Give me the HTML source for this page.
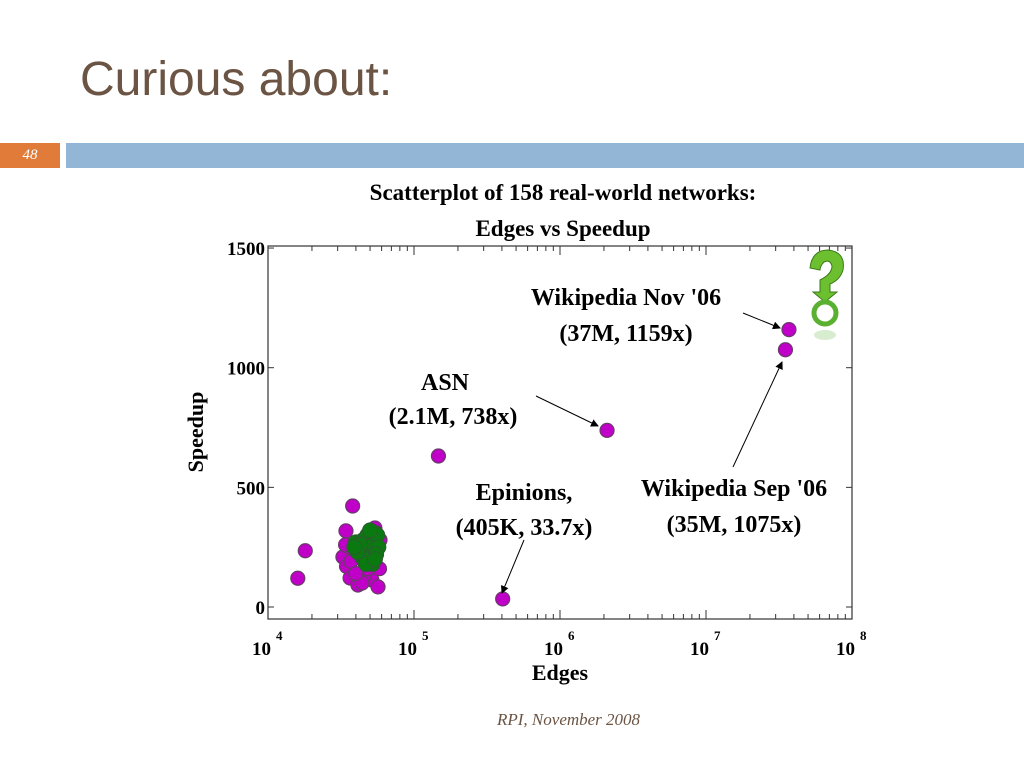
<!DOCTYPE html>
<html><head><meta charset="utf-8"><style>
body{margin:0;width:1024px;height:768px;background:#fff;overflow:hidden;position:relative;font-family:"Liberation Serif",serif}
.title{position:absolute;left:80px;top:52px;font-family:"Liberation Sans",sans-serif;font-size:48px;color:#6b5443}
.ob{position:absolute;left:0;top:143px;width:60px;height:25px;background:#e07b39;color:#fff;font-style:italic;font-size:15px;text-align:center;line-height:25px}
.bb{position:absolute;left:66px;top:143px;width:958px;height:25px;background:#93b6d6}
.foot{position:absolute;left:497px;top:710px;font-style:italic;font-size:17px;color:#6b5443}
</style></head><body>
<div class="title">Curious about:</div>
<div class="ob">48</div>
<div class="bb"></div>
<div class="foot">RPI, November 2008</div>
<svg id="chart" width="1024" height="768" style="position:absolute;left:0;top:0" font-family="Liberation Serif, serif" font-weight="bold"></svg>
<script>
const magX=[16000,18000,147000,38000,2100000,405000,37000000,35000000,34200,32600,34500,36500,41300,51500,56700,45500,54000,58500,54000,42700,39400,48400,36000,44000,34000,37000,40000,58000];
const magY=[120,235,631,422,738,33.7,1159,1075,318,209,170,121,92,113,84,130,196,280,330,259,220,160,250,100,260,190,140,160];
const grnX=[40000,42000,45000,48000,51000,54000,47000,44000,50000,53000,46000,49000,52000,43000,56000,57000,55000,41000,39000,50000,47000,54000];
const grnY=[270,240,280,300,290,310,250,210,230,260,190,200,180,260,300,250,220,230,250,320,180,200];
const yTicks=[0,500,1000,1500];
const xExp=[4,5,6,7,8];
const NS='http://www.w3.org/2000/svg';
const svg=document.getElementById('chart');
const L=268,R=852,T=246,B=619,DEC=146;
const sx=v=>L+(Math.log10(v)-4)*DEC;
const sy=v=>607-v*0.2393;
function mk(t,a,p){const e=document.createElementNS(NS,t);for(const k in a)e.setAttribute(k,a[k]);(p||svg).appendChild(e);return e;}
const frame=mk('rect',{x:L,y:T,width:R-L,height:B-T,fill:'none',stroke:'#333','stroke-width':1.2});


yTicks.forEach(v=>{
 const tx=mk('text',{x:L-3,y:sy(v)+7,'text-anchor':'end','font-size':19});tx.textContent=v;
 
 
 mk('line',{x1:L,x2:L+6,y1:sy(v),y2:sy(v),stroke:'#333'});
 mk('line',{x1:R-6,x2:R,y1:sy(v),y2:sy(v),stroke:'#333'});
});
xExp.forEach(e=>{
 const x=L+(e-4)*DEC;
 const tx=mk('text',{x:x-16,y:655,'font-size':19});tx.textContent='10';
 
 
 const sp=mk('text',{x:x+8,y:640,'font-size':13});sp.textContent=e;
 if(e<8)for(let m=2;m<=10;m++){const xx=x+Math.log10(m)*DEC;const h=m==10?9:5;
  mk('line',{x1:xx,x2:xx,y1:B,y2:B-h,stroke:'#333'});mk('line',{x1:xx,x2:xx,y1:T,y2:T+h,stroke:'#333'});}
});
magX.forEach((v,i)=>{const c=mk('circle',{cx:sx(v),cy:sy(magY[i]),r:7,fill:'#c000c8',stroke:'#6a3a6a','stroke-width':1.2});
 
 });
grnX.forEach((v,i)=>{const c=mk('circle',{cx:sx(v),cy:sy(grnY[i]),r:7.5,fill:'#0a7a10',stroke:'#2c5a30','stroke-width':1});
 
 });
function txt(x,y,s,sz,name,anchor){const t=mk('text',{x,y,'font-size':sz,'text-anchor':anchor||'middle'});t.textContent=s;
 
 return t;}
txt(563,200,'Scatterplot of 158 real-world networks:',23,'chart-title');
txt(563,236,'Edges vs Speedup',23,'chart-subtitle');
txt(560,680,'Edges',22,'x-axis-title');
const yt=txt(0,0,'Speedup',22,'y-axis-title');yt.setAttribute('transform','translate(203,432) rotate(-90)');
txt(626,305,"Wikipedia Nov '06",24,'annotation-wiki-nov');
txt(626,341,'(37M, 1159x)',24,'annotation-wiki-nov-values');
txt(445,390,'ASN',24,'annotation-asn');
txt(453,424,'(2.1M, 738x)',24,'annotation-asn-values');
txt(524,500,'Epinions,',24,'annotation-epinions');
txt(524,535,'(405K, 33.7x)',24,'annotation-epinions-values');
txt(734,496,"Wikipedia Sep '06",24,'annotation-wiki-sep');
txt(734,532,'(35M, 1075x)',24,'annotation-wiki-sep-values');
mk('defs',{}).innerHTML='<marker id="ah" markerWidth="8" markerHeight="8" refX="7" refY="4" orient="auto"><path d="M0,0L8,4L0,8z" fill="#000"/></marker>';
[[743,313,780,328],[536,396,598,426],[524,540,502,593],[733,467,782,362]].forEach(a=>{
 mk('line',{x1:a[0],y1:a[1],x2:a[2],y2:a[3],stroke:'#000','stroke-width':1,'marker-end':'url(#ah)'});});
const ic=mk('g',{});


ic.innerHTML='<path d="M810,268 Q812,250 828,250 Q846,252 843,270 Q840,280 830,284 L830,292 L837,292 L825,302 L813,292 L820,292 L820,280 Q832,274 832,266 Q830,259 824,262 Q820,266 820,270 Z" fill="#6cc030" stroke="#3a7a18" stroke-width="1"/><circle cx="825" cy="313" r="11" fill="none" stroke="#5ab030" stroke-width="5"/><ellipse cx="825" cy="335" rx="11" ry="5" fill="#d8ecd0"/>';
</script>
</body></html>
